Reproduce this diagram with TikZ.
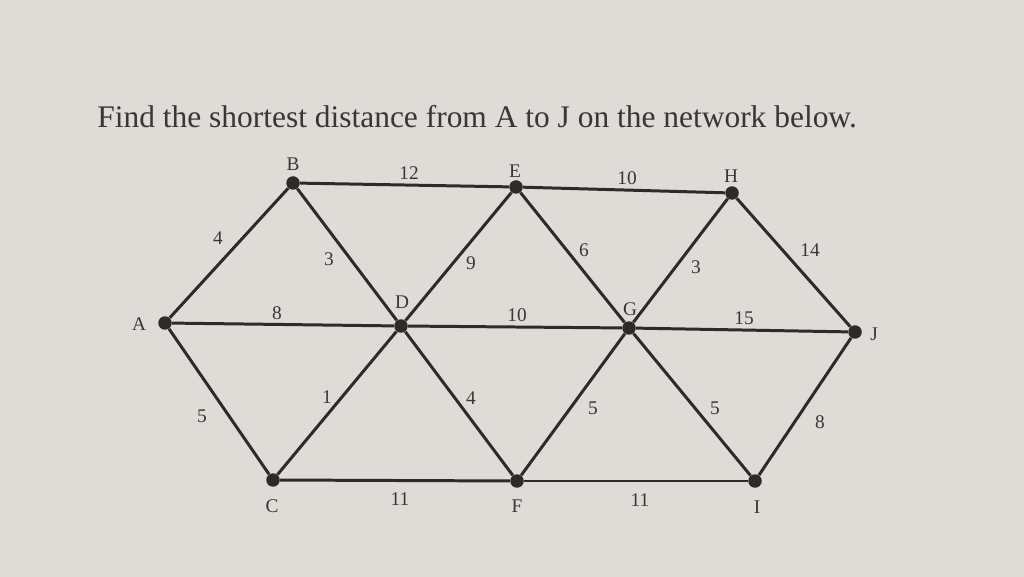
\documentclass[tikz,border=0pt]{standalone}
\usepackage{fontspec}
\setmainfont{Liberation Serif}
\definecolor{paper}{RGB}{222,220,215}
\definecolor{ink}{RGB}{45,42,40}
\definecolor{print}{RGB}{58,54,51}
\tikzset{
  dot/.style={circle, fill=ink, inner sep=0pt, minimum size=0.27cm},
  edge/.style={draw=ink, line width=1.7pt},
  lab/.style={text=print, inner sep=0pt, font=\fontsize{11}{12}\selectfont},
  wt/.style={text=print, inner sep=0pt, font=\fontsize{11}{12}\selectfont}
}
\begin{document}
\begin{tikzpicture}[x=0.02cm, y=-0.02cm]
\fill[paper] (0,0) rectangle (1024,577);
\useasboundingbox (0,0) rectangle (1024,577);
\node[text=print, anchor=base west, inner sep=0pt, font=\fontsize{17.9}{20}\selectfont] (title) at (97,128) {Find the shortest distance from A to J on the network below.};
% vertices
\foreach \n/\x/\y in {A/165/323, B/293/183, E/516/187, H/732/193, D/401/326, G/629/328, J/855/332, C/273/480, F/517/481, I/755/481}
	\node[dot] (\n) at (\x,\y) {};
% vertex names
\foreach \n/\x/\y in {A/139/324, B/293/164, E/515/171, H/731/176, D/402/302, G/630/309, J/874/334, C/272/506, F/517/506, I/757/507}
	\node[lab] (l\n) at (\x,\y) {\n};
% edges
\foreach \a/\b in {A/B, A/D, A/C, B/E, B/D, E/H, E/D, E/G, H/G, H/J, D/G, G/J, D/C, D/F, G/F, G/I, J/I, C/F, F/I}
	\draw[edge] (\a) -- (\b);
% weights
\foreach \w/\x/\y [count=\i] in {4/218/238, 12/409/173, 10/627/178, 3/329/259, 9/471/263, 6/584/250, 3/696/267, 14/810/250, 8/277/313, 10/517/315, 15/744/318, 5/202/416, 1/327/397, 4/471/398, 5/593/408, 5/715/408, 8/820/422, 11/400/499, 11/640/500}
	\node[wt] (w\i) at (\x,\y) {\w};
\end{tikzpicture}
\end{document}
